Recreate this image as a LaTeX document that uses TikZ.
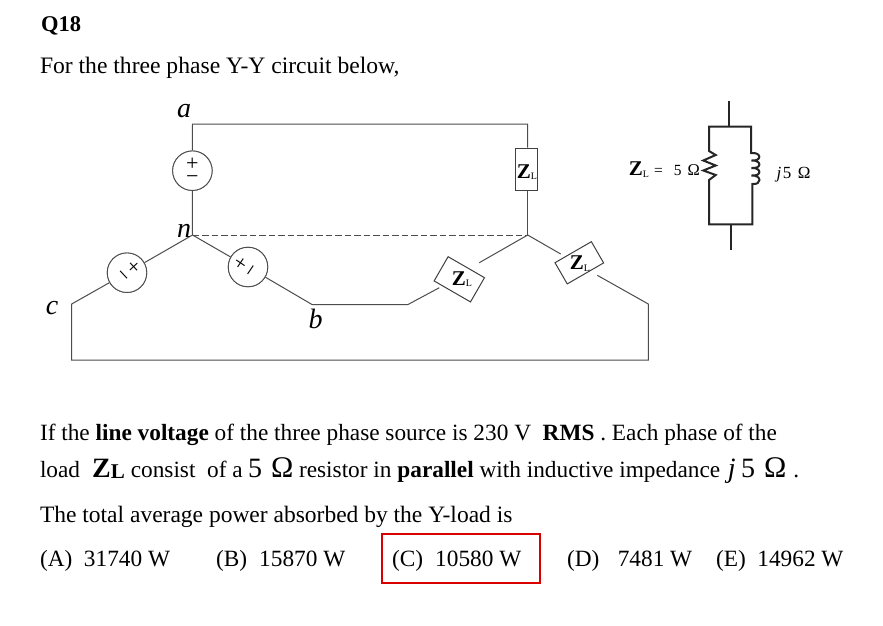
\documentclass[tikz,border=0pt]{standalone}
\usepackage{fontspec}
\setmainfont{Liberation Serif}
\newcommand{\fs}[1]{\fontsize{#1}{#1}\selectfont}
\newcommand{\ZLabel}[3]{\fs{#1}\textbf{Z}\kern#3pt\raisebox{-1.5pt}{\fs{#2}L}}
\newcommand{\polar}{\vbox{\baselineskip=12.5pt\lineskiplimit=-100pt\hbox to 14pt{\hss+\hss}\hbox to 14pt{\hss−\hss}}}
\tikzset{
  wire/.style={draw=black!70,line width=1pt},
  thick wire/.style={draw=black!85,line width=2pt},
  source/.style={circle,draw=black!70,line width=0.9pt,minimum size=39.5pt,inner sep=0pt,fill=white},
  load/.style={rectangle,draw=black!75,line width=1pt,fill=white,inner sep=0pt,minimum width=42pt,minimum height=22pt},
  para/.style={anchor=base west,inner sep=0pt,outer sep=0pt,font=\fs{23.3}},
  lbl/.style={anchor=base,inner sep=0pt,font=\fs{28}\itshape},
  sign/.style={inner sep=0pt,font=\fs{22}}
}
\begin{document}
\begin{tikzpicture}[x=1pt,y=-1pt]
\useasboundingbox (0,0) rectangle (883,625);
\fill[white] (0,0) rectangle (883,625);
% text
\node[para,font=\fs{22.5}\bfseries] (title) at (41,31) {Q18};
\node[para,font=\fs{23.6}] (intro) at (40,73.5) {For the three phase Y-Y circuit below,};
\node[para] (l1) at (40,440.5) {If the \textbf{line voltage} of the three phase source is 230 V\ \ \textbf{RMS} . Each phase of the};
\node[para] (l2) at (40,477) {load\kern12pt{\fs{28}\textbf{Z}}\textbf{\fs{21}\raisebox{-1pt}{L}}\kern6pt consist\ \ of a\kern5.5pt{\fs{28}5\kern9pt{\fs{30}Ω}}\kern5.5pt resistor in \textbf{parallel} with inductive impedance\kern7.5pt{\fs{28}\textit{j}\kern5.5pt 5\kern9pt{\fs{30}Ω}}\kern7pt .};
\node[para,font=\fs{23.5}] (l3) at (40,522) {The total average power absorbed by the Y-load is};
\node[para] (ansA) at (40,566) {(A)\ \ 31740 W};
\node[para] (ansB) at (216,566) {(B)\ \ \kern0.5pt 15870 W};
\node[para] (ansC) at (392,566) {(C)\ \ \kern0.5pt 10580 W};
\node[para] (ansD) at (567,566) {(D)\ \ \ \kern1pt 7481 W};
\node[para] (ansE) at (716,566) {(E)\ \ 14962 W};
\node[draw=red!85!black,line width=1.3pt,minimum width=158pt,minimum height=49pt,inner sep=0pt] (answerbox) at (461,558.5) {};
% junctions and corners
\coordinate (n) at (192.5,235);
\coordinate (N) at (527.7,235);
\coordinate (aTop) at (192.5,124);
\coordinate (aRight) at (527.7,124);
\coordinate (cCorner) at (71.7,304);
\coordinate (cBottom) at (71.7,360);
\coordinate (rBottom) at (648.3,360);
\coordinate (rCorner) at (648.3,304);
\coordinate (bCorner) at (312,304.5);
\coordinate (bRight) at (408,304.5);
\coordinate (bGapIn) at (439.3,287.7);
\coordinate (bGapOut) at (479.3,262.7);
\coordinate (cGapIn) at (560.7,254);
\coordinate (cGapOut) at (597.3,275.3);
% elements
\node[source] (Va) at (192.4,170.7) {};
\node[source] (Vb) at (248,267) {};
\node[source] (Vc) at (127,272.7) {};
\node[load,minimum width=22.2pt,minimum height=42pt] (Za) at (526.6,169) {};
\node[load,rotate=-30,minimum width=42pt,minimum height=28pt] (Zb) at (459.3,279.3) {};
\node[load,rotate=30,minimum width=42pt,minimum height=24.5pt] (Zc) at (579.3,262.8) {};
% wiring
\draw[wire] (Va.north) -- (aTop) -- (aRight) -- (aRight |- Za.north);
\draw[wire] (aRight |- Za.south) -- (N);
\draw[wire] (Va.south) -- (n);
\draw[wire] (n) -- (Vb);
\draw[wire] (n) -- (Vc);
\draw[wire] (Vb) -- (bCorner) -- (bRight) -- (bGapIn);
\draw[wire] (bGapOut) -- (N);
\draw[wire] (Vc) -- (cCorner) -- (cBottom) -- (rBottom) -- (rCorner) -- (cGapOut);
\draw[wire] (N) -- (cGapIn);
\draw[wire,dash pattern=on 6.5pt off 3pt] (n) -- (N);
% redraw sources over their wires
\node[source] at (Va) {};
\node[source] at (Vb) {};
\node[source] at (Vc) {};
% source signs
\node[sign] (sa) at (192.4,171) {\polar};
\node[sign,rotate=56] (sb) at (247,267) {\polar};
\node[sign,rotate=-47] (sc) at (128.3,272) {\polar};
% node labels
\node[lbl] (la) at (184,117) {a};
\node[lbl] (ln) at (184,237) {n};
\node[lbl] (lb) at (315.7,328) {b};
\node[lbl] (lc) at (52,314) {c};
% load labels
\node[inner sep=0pt] (tZa) at (527,172) {\ZLabel{21}{10}{0}};
\node[inner sep=0pt] (tZb) at (462,279) {\ZLabel{21}{10}{0}};
\node[inner sep=0pt] (tZc) at (580,263.5) {\ZLabel{21}{10}{0}};
% legend
\coordinate (pTop) at (729,101);
\coordinate (pTopJ) at (729,126.7);
\coordinate (pTL) at (709,126.7);
\coordinate (pTR) at (751,126.7);
\coordinate (pBJ) at (731.3,224.3);
\coordinate (pBot) at (731.3,250);
\coordinate (pBL) at (709,224.3);
\coordinate (pBR) at (752.3,224.3);
\draw[thick wire] (pTop) -- (pTopJ);
\draw[thick wire] (pBJ) -- (pBot);
\draw[thick wire,line join=miter] (pTL) -- (pTR) -- (751,153)
  .. controls (762,152) and (762,161.5) .. (751.5,160.5)
  .. controls (762,160) and (762,169) .. (751.5,168)
  .. controls (762,167.5) and (762,176.5) .. (751.5,175.5)
  .. controls (762,175) and (762,185) .. (752.3,184)
  -- (pBR) -- (pBL) -- (709,180) -- (715.7,175) -- (703.3,170.5) -- (715.7,165.5) -- (703.3,160.5) -- (715.7,155) -- (709,151) -- cycle;
\node[anchor=base west,inner sep=0pt] (legL) at (628.7,175.5) {\ZLabel{21}{10}{0}\kern5pt\fs{15.5}=\kern11pt 5\kern6pt{\fs{16.5}Ω}};
\node[anchor=base west,inner sep=0pt,font=\fs{17}] (legJ) at (776.5,178) {\textit{j}\kern1.5pt 5\kern6.5pt Ω};
\end{tikzpicture}
\end{document}
